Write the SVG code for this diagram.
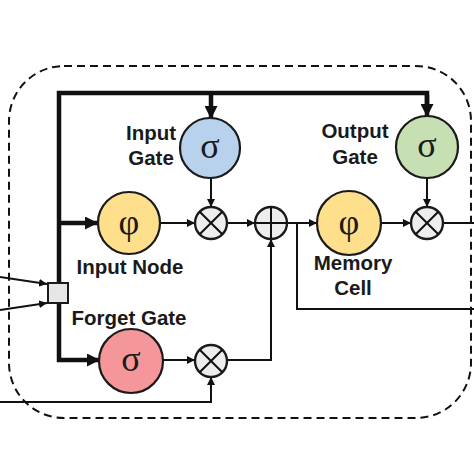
<svg xmlns="http://www.w3.org/2000/svg" width="474" height="474" viewBox="0 0 474 474">
<defs>
<marker id="ah" viewBox="0 0 10 10" refX="10" refY="5" markerWidth="8" markerHeight="8" orient="auto" markerUnits="userSpaceOnUse">
<path d="M0,0 L10,5 L0,10 z" fill="#111"/>
</marker>
<marker id="ahb" viewBox="0 0 10 10" refX="10" refY="5" markerWidth="13" markerHeight="13" orient="auto" markerUnits="userSpaceOnUse">
<path d="M0,0 L10,5 L0,10 z" fill="#111"/>
</marker>
<style>
.thin{fill:none;stroke:#111;stroke-width:2;marker-end:url(#ah)}
.line{fill:none;stroke:#111;stroke-width:2}
.thick{fill:none;stroke:#111;stroke-width:4.5}
.thicka{fill:none;stroke:#111;stroke-width:4.5;marker-end:url(#ahb)}
.node{stroke:#1a1a1a;stroke-width:2.2}
.op{fill:#ededed;stroke:#1a1a1a;stroke-width:2.4}
.lbl{font-family:"Liberation Sans",Arial,sans-serif;font-weight:bold;font-size:20.5px;fill:#1a1a1a;text-anchor:middle}
.sym{font-family:"Liberation Serif","Times New Roman",serif;font-size:36px;fill:#1a1a1a;text-anchor:middle}
</style>
</defs>
<rect width="474" height="474" fill="#fff"/>
<rect id="cell-border" x="9" y="66" width="462" height="352" rx="55" ry="55" fill="none" stroke="#111" stroke-width="2" stroke-dasharray="8,5"/>

<g id="connectors">
<path class="thick" d="M59,283 V93 H427 V104"/>
<path class="thicka" d="M427,95 V117"/>
<path class="thicka" d="M211,93 V119"/>
<path class="thicka" d="M59,223 H98"/>
<path class="thicka" d="M59,303 V360 H100"/>
<path class="thin" d="M211,178 V207"/>
<path class="thin" d="M161,223 H195"/>
<path class="thin" d="M227,223 H255"/>
<path class="thin" d="M287,223 H317"/>
<path class="line" d="M297,223 V309 H474"/>
<path class="thin" d="M381,223 H411"/>
<path class="thin" d="M427,178 V207"/>
<path class="line" d="M443,223 H474"/>
<path class="thin" d="M163,360 H195"/>
<path class="thin" d="M227,360 H271 V239"/>
<path class="thin" d="M0,402 H211 V377"/>
<path class="thin" d="M0,277 L47,284"/>
<path class="thin" d="M0,310 L47,303"/>
</g>

<g id="concat"><rect x="48" y="283" width="20" height="20" fill="#e6e6e6" stroke="#1a1a1a" stroke-width="2"/></g>

<g id="input-gate">
<circle class="node" cx="210" cy="148" r="30" fill="#b8d1ec"/>
<text class="sym" x="210" y="158">σ</text>
<text class="lbl" x="151" y="140">Input</text>
<text class="lbl" x="151" y="165">Gate</text>
</g>
<g id="output-gate">
<circle class="node" cx="427" cy="147" r="31" fill="#c6e0b4"/>
<text class="sym" x="427" y="157">σ</text>
<text class="lbl" x="355" y="138">Output</text>
<text class="lbl" x="355" y="164">Gate</text>
</g>
<g id="input-node">
<circle class="node" cx="129" cy="223" r="31" fill="#fddf8c"/>
<text class="sym" x="129" y="234">φ</text>
<text class="lbl" x="130" y="274">Input Node</text>
</g>
<g id="memory-cell">
<circle class="node" cx="349" cy="223" r="32" fill="#fddf8c"/>
<text class="sym" x="349" y="234">φ</text>
<text class="lbl" x="353" y="270">Memory</text>
<text class="lbl" x="353" y="295">Cell</text>
</g>
<g id="forget-gate">
<circle class="node" cx="131" cy="361" r="32" fill="#f5969b"/>
<text class="sym" x="131" y="371">σ</text>
<text class="lbl" x="129" y="325">Forget Gate</text>
</g>
<g id="mul-input">
<circle class="op" cx="211" cy="223" r="16"/>
<path class="line" d="M199.7,211.7 L222.3,234.3 M222.3,211.7 L199.7,234.3" stroke-width="2.4"/>
</g>
<g id="add">
<circle class="op" cx="271" cy="223" r="16"/>
<path class="line" d="M255,223 H287 M271,207 V239" stroke-width="2.4"/>
</g>
<g id="mul-output">
<circle class="op" cx="427" cy="223" r="16"/>
<path class="line" d="M415.7,211.7 L438.3,234.3 M438.3,211.7 L415.7,234.3" stroke-width="2.4"/>
</g>
<g id="mul-forget">
<circle class="op" cx="211" cy="361" r="16"/>
<path class="line" d="M199.7,349.7 L222.3,372.3 M222.3,349.7 L199.7,372.3" stroke-width="2.4"/>
</g>
</svg>
